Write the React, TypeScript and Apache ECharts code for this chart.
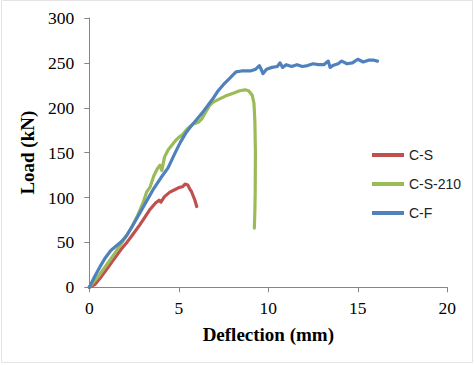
import React, { useEffect, useRef } from "react";
import * as echarts from "echarts";

const seriesNames = ["C-S", "C-S-210", "C-F"];
const seriesColors = ["#C0504D", "#9BBB59", "#4F81BD"];

const csX = [0, 0.3, 0.6, 1.0, 1.4, 1.8, 2.1, 2.4, 2.8, 3.1, 3.4, 3.7, 3.9, 4.0, 4.2, 4.5, 4.8, 5.0, 5.2, 5.35, 5.5, 5.6, 5.7, 5.8, 5.9, 6.0];
const csY = [0, 3, 10, 21, 32, 43, 50, 58, 69, 78, 87, 94, 97, 95, 101, 106, 109, 111, 112, 115, 114, 110, 107, 102, 97, 90];

const cs210X = [0, 0.5, 1.0, 1.5, 2.0, 2.4, 2.7, 3.0, 3.2, 3.4, 3.6, 3.8, 3.95, 4.05, 4.2, 4.4, 4.6, 4.8, 5.0, 5.2, 5.5, 5.8, 6.1, 6.3, 6.5, 6.7, 6.9, 7.2, 7.6, 8.0, 8.4, 8.7, 8.9, 9.1, 9.2, 9.25, 9.28, 9.27, 9.25, 9.22];
const cs210Y = [0, 12, 26, 40, 55, 68, 80, 94, 106, 112, 124, 132, 136, 130, 145, 153, 158, 163, 167, 170, 177, 182, 184, 188, 195, 202, 206, 209, 213, 216, 219, 220, 219, 214, 205, 185, 150, 110, 85, 66];

const cfX = [0, 0.3, 0.6, 0.9, 1.2, 1.5, 1.8, 2.1, 2.4, 2.8, 3.2, 3.6, 4.0, 4.4, 4.8, 5.1, 5.4, 5.7, 6.0, 6.3, 6.6, 6.9, 7.2, 7.5, 7.8, 8.0, 8.2, 8.5, 9.0, 9.3, 9.5, 9.6, 9.7, 9.9, 10.2, 10.5, 10.65, 10.8, 11.0, 11.3, 11.6, 11.9, 12.2, 12.5, 12.8, 13.1, 13.35, 13.45, 13.6, 13.9, 14.1, 14.4, 14.7, 15.0, 15.3, 15.6, 15.9, 16.1];
const cfY = [0, 12, 23, 33, 41, 46, 51, 58, 68, 82, 96, 110, 122, 133, 150, 162, 172, 180, 187, 194, 202, 210, 219, 226, 232, 236, 240, 241, 241, 243, 247, 243, 238, 243, 245, 246, 250, 245, 248, 246, 248, 246, 247, 249, 248, 248, 252, 245, 247, 249, 252, 249, 250, 254, 251, 253, 253, 252];

const xTicks = { min: 0, max: 20, interval: 5 };
const yTicks = { min: 0, max: 300, interval: 50 };

function pairs(xs: number[], ys: number[]) {
  return xs.map((x, i) => [x, ys[i]]);
}

export default function App() {
  const ref = useRef<HTMLDivElement>(null);
  useEffect(() => {
    if (!ref.current) return;
    const chart = echarts.init(ref.current, null, { renderer: "svg" });
    const datasets = [pairs(csX, csY), pairs(cs210X, cs210Y), pairs(cfX, cfY)];
    const axisGray = "#868686";
    const labelFont = { fontFamily: "'Liberation Serif', 'Times New Roman', serif", fontSize: 17.5, color: "#000" };
    chart.setOption({
      animation: false,
      backgroundColor: "#fff",
      grid: { left: 89.3, right: 26.7, top: 18, bottom: 77.7, containLabel: false, outerBoundsMode: "none" },
      legend: {
        orient: "vertical",
        left: 372,
        top: 148,
        padding: 0,
        itemWidth: 32,
        itemHeight: 4,
        itemGap: 15,
        icon: "rect",
        textStyle: { fontFamily: "'Liberation Sans', Arial, sans-serif", fontSize: 14, color: "#222" },
        data: seriesNames,
      },
      xAxis: {
        type: "value",
        ...xTicks,
        name: "Deflection (mm)",
        nameLocation: "middle",
        nameGap: 38,
        nameTextStyle: { fontFamily: "'Liberation Serif', 'Times New Roman', serif", fontSize: 19, fontWeight: "bold", color: "#000" },
        axisLine: { show: true, lineStyle: { color: axisGray, width: 1 } },
        axisTick: { show: true, length: 5, lineStyle: { color: axisGray } },
        axisLabel: { ...labelFont, margin: 12 },
        splitLine: { show: false },
      },
      yAxis: {
        type: "value",
        ...yTicks,
        name: "Load (kN)",
        nameLocation: "middle",
        nameGap: 44,
        nameTextStyle: { fontFamily: "'Liberation Serif', 'Times New Roman', serif", fontSize: 19, fontWeight: "bold", color: "#000" },
        axisLine: { show: true, lineStyle: { color: axisGray, width: 1 } },
        axisTick: { show: true, length: 5, lineStyle: { color: axisGray } },
        axisLabel: { ...labelFont, margin: 15 },
        splitLine: { show: false },
      },
      series: seriesNames.map((name, i) => ({
        name,
        type: "line",
        data: datasets[i],
        showSymbol: false,
        symbol: "none",
        color: seriesColors[i],
        lineStyle: { width: 3.2, color: seriesColors[i], join: "round", cap: "round" },
      })),
      graphic: [
        {
          type: "rect",
          shape: { x: 1.5, y: 0.5, width: 471, height: 362 },
          style: { fill: "none", stroke: "#e4e4e4", lineWidth: 1 },
          silent: true,
        },
      ],
    });
    return () => chart.dispose();
  }, []);
  return <div ref={ref} style={{ position: "fixed", left: 0, top: 0, width: 474, height: 365 }} />;
}
